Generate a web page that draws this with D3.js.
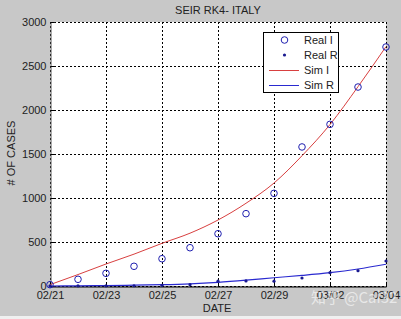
<!DOCTYPE html>
<html><head><meta charset="utf-8">
<script src="https://cdn.jsdelivr.net/npm/d3@7"></script>
<style>body{margin:0;background:#c8c8c8;overflow:hidden}svg{display:block}</style>
</head><body><svg id="c" width="401" height="319"></svg>
<script>
const dates = ["02/21","02/22","02/23","02/24","02/25","02/26","02/27","02/28","02/29","03/01","03/02","03/03","03/04"];
const tickLabels = ["02/21","02/23","02/25","02/27","02/29","03/02","03/04"];
const realI = [15, 76, 144, 224, 310, 435, 594, 822, 1053, 1580, 1837, 2261, 2716];
const realR = [1, 2, 2, 3, 8, 15, 55, 58, 55, 91, 151, 174, 284];
const simI = [15, 130, 250, 362, 485, 600, 750, 940, 1170, 1480, 1835, 2265, 2720];
const simR = [0, 2, 5, 9, 15, 25, 42, 66, 94, 120, 151, 193, 247];
const yTicks = [0, 500, 1000, 1500, 2000, 2500, 3000];

const svg = d3.select("#c");
const font = "'Liberation Sans', Arial, sans-serif";
svg.append("rect").attr("x",0).attr("y",0).attr("width",401).attr("height",319).attr("fill","#c8c8c8");
svg.append("rect").attr("x",0).attr("y",316).attr("width",401).attr("height",3).attr("fill","#f0f0f0");

const L=50, R=386, T=22, B=286;
const x = d3.scaleLinear().domain([0, dates.length-1]).range([L, R]);
const y = d3.scaleLinear().domain([0, 3000]).range([B, T]);

svg.append("rect").attr("x",L).attr("y",T).attr("width",R-L).attr("height",B-T).attr("fill","#fff");

// grid
const g = svg.append("g");
tickLabels.forEach(t => {
  const xi = x(dates.indexOf(t));
  g.append("line").attr("x1",xi+0.5).attr("x2",xi+0.5).attr("y1",T).attr("y2",B)
   .attr("stroke","#000").attr("stroke-dasharray","2,2").attr("stroke-width",1);
});
yTicks.forEach(v => {
  g.append("line").attr("x1",L).attr("x2",R).attr("y1",Math.round(y(v))+0.5).attr("y2",Math.round(y(v))+0.5)
   .attr("stroke","#000").attr("stroke-dasharray","2,2").attr("stroke-width",1);
});

// axes
const yAxis = d3.axisLeft(y).tickValues(yTicks).tickSize(-4).tickPadding(4).tickFormat(d3.format("d"));
const ya = svg.append("g").attr("transform",`translate(${L+0.5},0)`).call(yAxis);
ya.select(".domain").attr("stroke","#555");
ya.selectAll(".tick line").attr("stroke","#000");
ya.selectAll("text").attr("font-family",font).attr("font-size",11).attr("fill","#222");

const xAxis = d3.axisBottom(x).tickValues(tickLabels.map(t=>dates.indexOf(t))).tickSize(-4).tickPadding(5)
  .tickFormat(i => dates[i]);
const xa = svg.append("g").attr("transform",`translate(0,${B+0.5})`).call(xAxis);
xa.select(".domain").attr("stroke","#000");
xa.selectAll(".tick line").attr("stroke","#000");
xa.selectAll("text").attr("font-family",font).attr("font-size",11).attr("fill","#222");

// lines
const line = d3.line().x((d,i)=>x(i)).y(d=>y(d)).curve(d3.curveMonotoneX);
svg.append("path").datum(simI).attr("d",line).attr("fill","none").attr("stroke","#d84040").attr("stroke-width",1);
svg.append("path").datum(simR).attr("d",line).attr("fill","none").attr("stroke","#2a2ad0").attr("stroke-width",1.2);

// points
svg.append("g").selectAll("circle").data(realI).join("circle")
  .attr("cx",(d,i)=>x(i)).attr("cy",d=>y(d)).attr("r",3.3)
  .attr("fill","none").attr("stroke","#2020b0").attr("stroke-width",1);
svg.append("g").selectAll("circle").data(realR).join("circle")
  .attr("cx",(d,i)=>x(i)).attr("cy",d=>y(d)).attr("r",1.6)
  .attr("fill","#1a1a90");

// title & labels
svg.append("text").attr("x",218).attr("y",14).attr("text-anchor","middle")
  .attr("font-family",font).attr("font-size",11).attr("fill","#222").text("SEIR RK4- ITALY");
svg.append("text").attr("x",217).attr("y",312).attr("text-anchor","middle")
  .attr("font-family",font).attr("font-size",11).attr("fill","#222").text("DATE");
svg.append("text").attr("transform","translate(15,153) rotate(-90)").attr("text-anchor","middle")
  .attr("font-family",font).attr("font-size",11).attr("fill","#222").text("# OF CASES");

// legend
const lg = svg.append("g");
lg.append("rect").attr("x",263.5).attr("y",32.5).attr("width",75).attr("height",60)
  .attr("fill","#fff").attr("stroke","#000").attr("stroke-width",1);
const items = [
  {name:"Real I", type:"circle"},
  {name:"Real R", type:"dot"},
  {name:"Sim I", type:"line", color:"#d84040"},
  {name:"Sim R", type:"line", color:"#2a2ad0"}
];
items.forEach((it,i) => {
  const yy = 40 + i*15;
  if (it.type==="circle") lg.append("circle").attr("cx",284.5).attr("cy",yy).attr("r",3.3).attr("fill","none").attr("stroke","#2020b0");
  else if (it.type==="dot") lg.append("circle").attr("cx",284.5).attr("cy",yy).attr("r",1.6).attr("fill","#1a1a90");
  else lg.append("line").attr("x1",269).attr("x2",299).attr("y1",yy+0.5).attr("y2",yy+0.5).attr("stroke",it.color).attr("stroke-width",1);
  lg.append("text").attr("x",304).attr("y",yy+4).attr("font-family",font).attr("font-size",11).attr("fill","#222").text(it.name);
});

// watermark
svg.append("text").attr("x",311).attr("y",303).attr("font-family","'Noto Sans CJK SC', sans-serif").attr("font-size",15)
  .attr("fill","#fff").attr("fill-opacity",0.6).text("知乎 @Cai32");
</script></body></html>
